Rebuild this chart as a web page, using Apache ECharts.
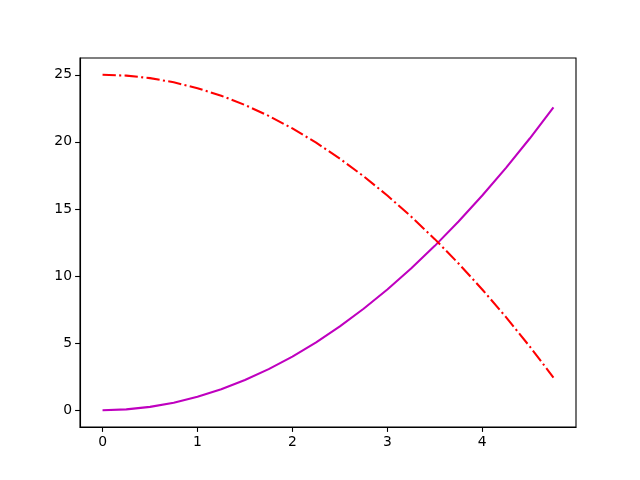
<!DOCTYPE html>
<html>
<head>
<meta charset="utf-8">
<script src="https://cdn.jsdelivr.net/npm/echarts@6/dist/echarts.min.js"></script>
<style>html,body{margin:0;padding:0;background:#fff}#c{width:640px;height:480px}</style>
</head>
<body>
<div id="c"></div>
<script>
const xs = [0, 0.25, 0.5, 0.75, 1, 1.25, 1.5, 1.75, 2, 2.25, 2.5, 2.75, 3, 3.25, 3.5, 3.75, 4, 4.25, 4.5, 4.75];
const rising = [0, 0.0625, 0.25, 0.5625, 1, 1.5625, 2.25, 3.0625, 4, 5.0625, 6.25, 7.5625, 9, 10.5625, 12.25, 14.0625, 16, 18.0625, 20.25, 22.5625];
const falling = [25, 24.9375, 24.75, 24.4375, 24, 23.4375, 22.75, 21.9375, 21, 19.9375, 18.75, 17.4375, 16, 14.4375, 12.75, 10.9375, 9, 6.9375, 4.75, 2.4375];
const xTicks = [0, 1, 2, 3, 4];
const yTicks = [0, 5, 10, 15, 20, 25];

const chart = echarts.init(document.getElementById('c'), null, {renderer: 'canvas'});
const labelStyle = {color: '#000', fontFamily: 'DejaVu Sans', fontSize: 13.9};
chart.setOption({
  animation: false,
  grid: {left: 80, right: 64, top: 58, bottom: 53, show: true, borderColor: '#000', borderWidth: 1.1, backgroundColor: 'transparent'},
  xAxis: {
    type: 'value', min: -0.2375, max: 4.9875,
    axisLine: {show: true, onZero: false, lineStyle: {color: '#000', width: 1.1}},
    axisTick: {show: true, length: 4.9, inside: false, customValues: xTicks, lineStyle: {color: '#000', width: 1.1}},
    axisLabel: Object.assign({margin: 8, customValues: xTicks, formatter: v => String(v)}, labelStyle),
    splitLine: {show: false}
  },
  yAxis: {
    type: 'value', min: -1.25, max: 26.25,
    axisLine: {show: true, onZero: false, lineStyle: {color: '#000', width: 1.1}},
    axisTick: {show: true, length: 4.9, inside: false, customValues: yTicks, lineStyle: {color: '#000', width: 1.1}},
    axisLabel: Object.assign({margin: 8, customValues: yTicks, formatter: v => String(v)}, labelStyle),
    splitLine: {show: false}
  },
  series: [
    {type: 'line', data: xs.map((x, i) => [x, rising[i]]), showSymbol: false, symbol: 'none',
     lineStyle: {color: '#bf00bf', width: 2.08}, z: 3},
    {type: 'line', data: xs.map((x, i) => [x, falling[i]]), showSymbol: false, symbol: 'none',
     lineStyle: {color: '#ff0000', width: 2.08, type: [13.3, 3.33, 2.08, 3.33]}, z: 3}
  ]
});
</script>
</body>
</html>
